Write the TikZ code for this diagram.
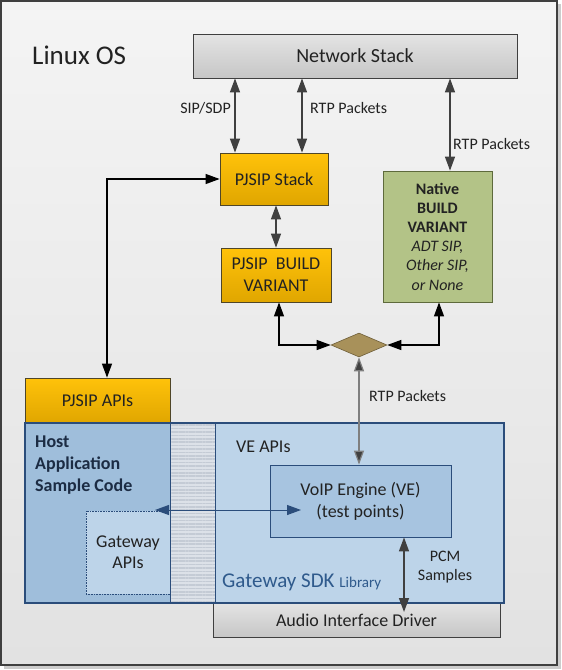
\documentclass[tikz,border=0pt]{standalone}
\usepackage{fontspec}
\setmainfont{Carlito}
\usetikzlibrary{arrows.meta,shapes.geometric,patterns.meta}
\definecolor{txt}{HTML}{222222}
\definecolor{frm}{HTML}{3F3F3F}
\definecolor{bgtop}{HTML}{F4F4F4}
\definecolor{bgbot}{HTML}{E2E2E2}
\definecolor{grtop}{HTML}{E4E4E4}
\definecolor{grbot}{HTML}{C6C6C6}
\definecolor{ortop}{HTML}{FFC20A}
\definecolor{orbot}{HTML}{E0A600}
\definecolor{orln}{HTML}{4F4628}
\definecolor{grn}{HTML}{B3C387}
\definecolor{grnln}{HTML}{5E6A3C}
\definecolor{dia}{HTML}{A8915A}
\definecolor{dialn}{HTML}{6E5E38}
\definecolor{bldark}{HTML}{9FBEDB}
\definecolor{bllight}{HTML}{BDD4E9}
\definecolor{blvoip}{HTML}{A7C4E0}
\definecolor{blbord}{HTML}{2B4D7B}
\definecolor{bltxt}{HTML}{2F5A8C}
\definecolor{hostt}{HTML}{1C2C44}
\definecolor{darkg}{HTML}{404040}
\definecolor{midg}{HTML}{7F7F7F}
\definecolor{hatchbase}{HTML}{DCE1E8}
\definecolor{hatchln}{HTML}{C4CBD5}
\tikzset{
  graybox/.style={draw=frm, line width=0.8pt, top color=grtop, bottom color=grbot, text=txt, inner sep=0pt},
  orbox/.style={draw=orln, line width=0.8pt, top color=ortop, bottom color=orbot, text=txt, inner sep=0pt, font=\fontsize{18}{22}\selectfont, align=center},
  garr/.style={draw=darkg, line width=1.4pt, {Triangle[length=14pt,width=10pt]}-{Triangle[length=14pt,width=10pt]}},
  barr/.style={draw=black, line width=1.2pt, {Triangle[length=14pt,width=10pt]}-{Triangle[length=14pt,width=10pt]}},
  rarr/.style={draw=midg, line width=1.2pt, {Triangle[length=14pt,width=10pt,fill=darkg]}-{Triangle[length=14pt,width=10pt,fill=darkg]}},
  blarr/.style={draw=blbord, line width=1pt, {Triangle[length=14pt,width=10pt]}-{Triangle[length=14pt,width=10pt]}},
  lbl/.style={text=txt, inner sep=0pt, font=\fontsize{16}{19}\selectfont},
}
\begin{document}
\begin{tikzpicture}[x=1pt,y=-1pt]
\useasboundingbox (0,0) rectangle (562,670);
% frame
\fill[gray!40] (4,4) rectangle (561,669);
\draw[frm, line width=1.2pt, top color=bgtop, bottom color=bgbot] (1,1) rectangle (557,665);
\node[text=txt, inner sep=0pt, anchor=west, font=\fontsize{27}{30}\selectfont] (os) at (32,55) {Linux OS};
% network stack
\node[graybox, minimum width=324, minimum height=44, font=\fontsize{20}{24}\selectfont] (ns) at (355,56) {Network Stack};
% PJSIP stack
\node[orbox, minimum width=108, minimum height=52] (ps) at (274,179) {PJSIP Stack};
\node[orbox, minimum width=110, minimum height=54] (bv) at (276,275) {PJSIP\ \ BUILD\\VARIANT};
\node[draw=grnln, line width=0.8pt, fill=grn, text=txt, inner sep=0pt, minimum width=109, minimum height=131, align=center, font=\fontsize{16}{19.2}\selectfont] (nv) at (437.5,236.5) {\textbf{Native}\\\textbf{BUILD}\\\textbf{VARIANT}\\\textit{ADT SIP,}\\\textit{Other SIP,}\\\textit{or None}};
\node[diamond, draw=dialn, line width=0.6pt, fill=dia, aspect=2.33, minimum width=56, minimum height=24, inner sep=0pt] (dm) at (359,345) {};
% coordinates for vertical connectors
\coordinate (c1) at (235,0);
\coordinate (c2) at (302,0);
\coordinate (c3) at (450,0);
\coordinate (c4) at (276,0);
\coordinate (c5) at (279,0);
\coordinate (c6) at (439,0);
\coordinate (c7) at (107,0);
\draw[garr] (c1 |- ns.south) -- (c1 |- ps.north);
\draw[garr] (c2 |- ns.south) -- (c2 |- ps.north);
\draw[garr] (c3 |- ns.south) -- (c3 |- nv.north);
\draw[garr] (c4 |- ps.south) -- (c4 |- bv.north);
\node[lbl, anchor=east] (l1) at (231,108) {SIP/SDP};
\node[lbl, anchor=west] (l2) at (310,108) {RTP Packets};
\node[lbl, anchor=west] (l3) at (453,144) {RTP Packets};
\draw[barr] (c5 |- bv.south) |- (dm.west);
\draw[barr] (c6 |- nv.south) |- (dm.east);
% PJSIP APIs
\node[orbox, minimum width=145, minimum height=45] (pa) at (97.5,400.5) {PJSIP APIs};
\draw[barr] (ps.west) -| (c7 |- pa.north);
% audio driver
\node[graybox, minimum width=287, minimum height=34, font=\fontsize{18}{22}\selectfont] (ad) at (356.5,620) {Audio Interface Driver};
% blue SDK area
\fill[bldark] (25,423) rectangle (170,603);
\fill[hatchbase] (170,423) rectangle (215,603);
\fill[pattern={Lines[angle=0,distance=3.4pt,line width=1.5pt]}, pattern color=hatchln] (170,423) rectangle (215,603);
\fill[bllight] (215,423) rectangle (504,603);
\draw[blbord, line width=0.8pt] (170,423) -- (170,603) (215,423) -- (215,603);
\draw[blbord, line width=2.6pt] (25,423) rectangle (504,603);
\node[text=hostt, inner sep=0pt, anchor=north west, align=left, font=\bfseries\fontsize{18}{22}\selectfont] (host) at (35,436) {Host\\Application\\Sample Code};
\node[draw=blbord, densely dotted, line width=0.6pt, fill=bllight, text=txt, inner sep=0pt, minimum width=84, minimum height=83, align=center, font=\fontsize{18}{21}\selectfont] (gw) at (128,552.5) {Gateway\\APIs};
\node[lbl, anchor=west, font=\fontsize{18}{22}\selectfont] (veapi) at (236,447) {VE APIs};
\node[draw=blbord, line width=0.8pt, fill=blvoip, text=txt, inner sep=0pt, minimum width=181, minimum height=72, align=center, font=\fontsize{18}{22}\selectfont] (ve) at (360.5,501) {VoIP Engine (VE)\\(test points)};
\node[text=bltxt, inner sep=0pt, anchor=base west] (sdk) at (222,587) {\fontsize{21}{24}\selectfont Gateway SDK \fontsize{15}{17}\selectfont Library};
\node[lbl, align=center] (pcm) at (445,567) {PCM\\Samples};
\coordinate (hl) at (155,510);
\coordinate (hr) at (301,510);
\draw[blarr] (hl) -- (hr);
\coordinate (pe) at (404,612);
\draw[garr] (pe |- ve.south) -- (pe);
\draw[rarr] (dm.south) -- (dm.south |- ve.north);
\node[lbl, anchor=west] (l4) at (369,396) {RTP Packets};
\end{tikzpicture}
\end{document}
